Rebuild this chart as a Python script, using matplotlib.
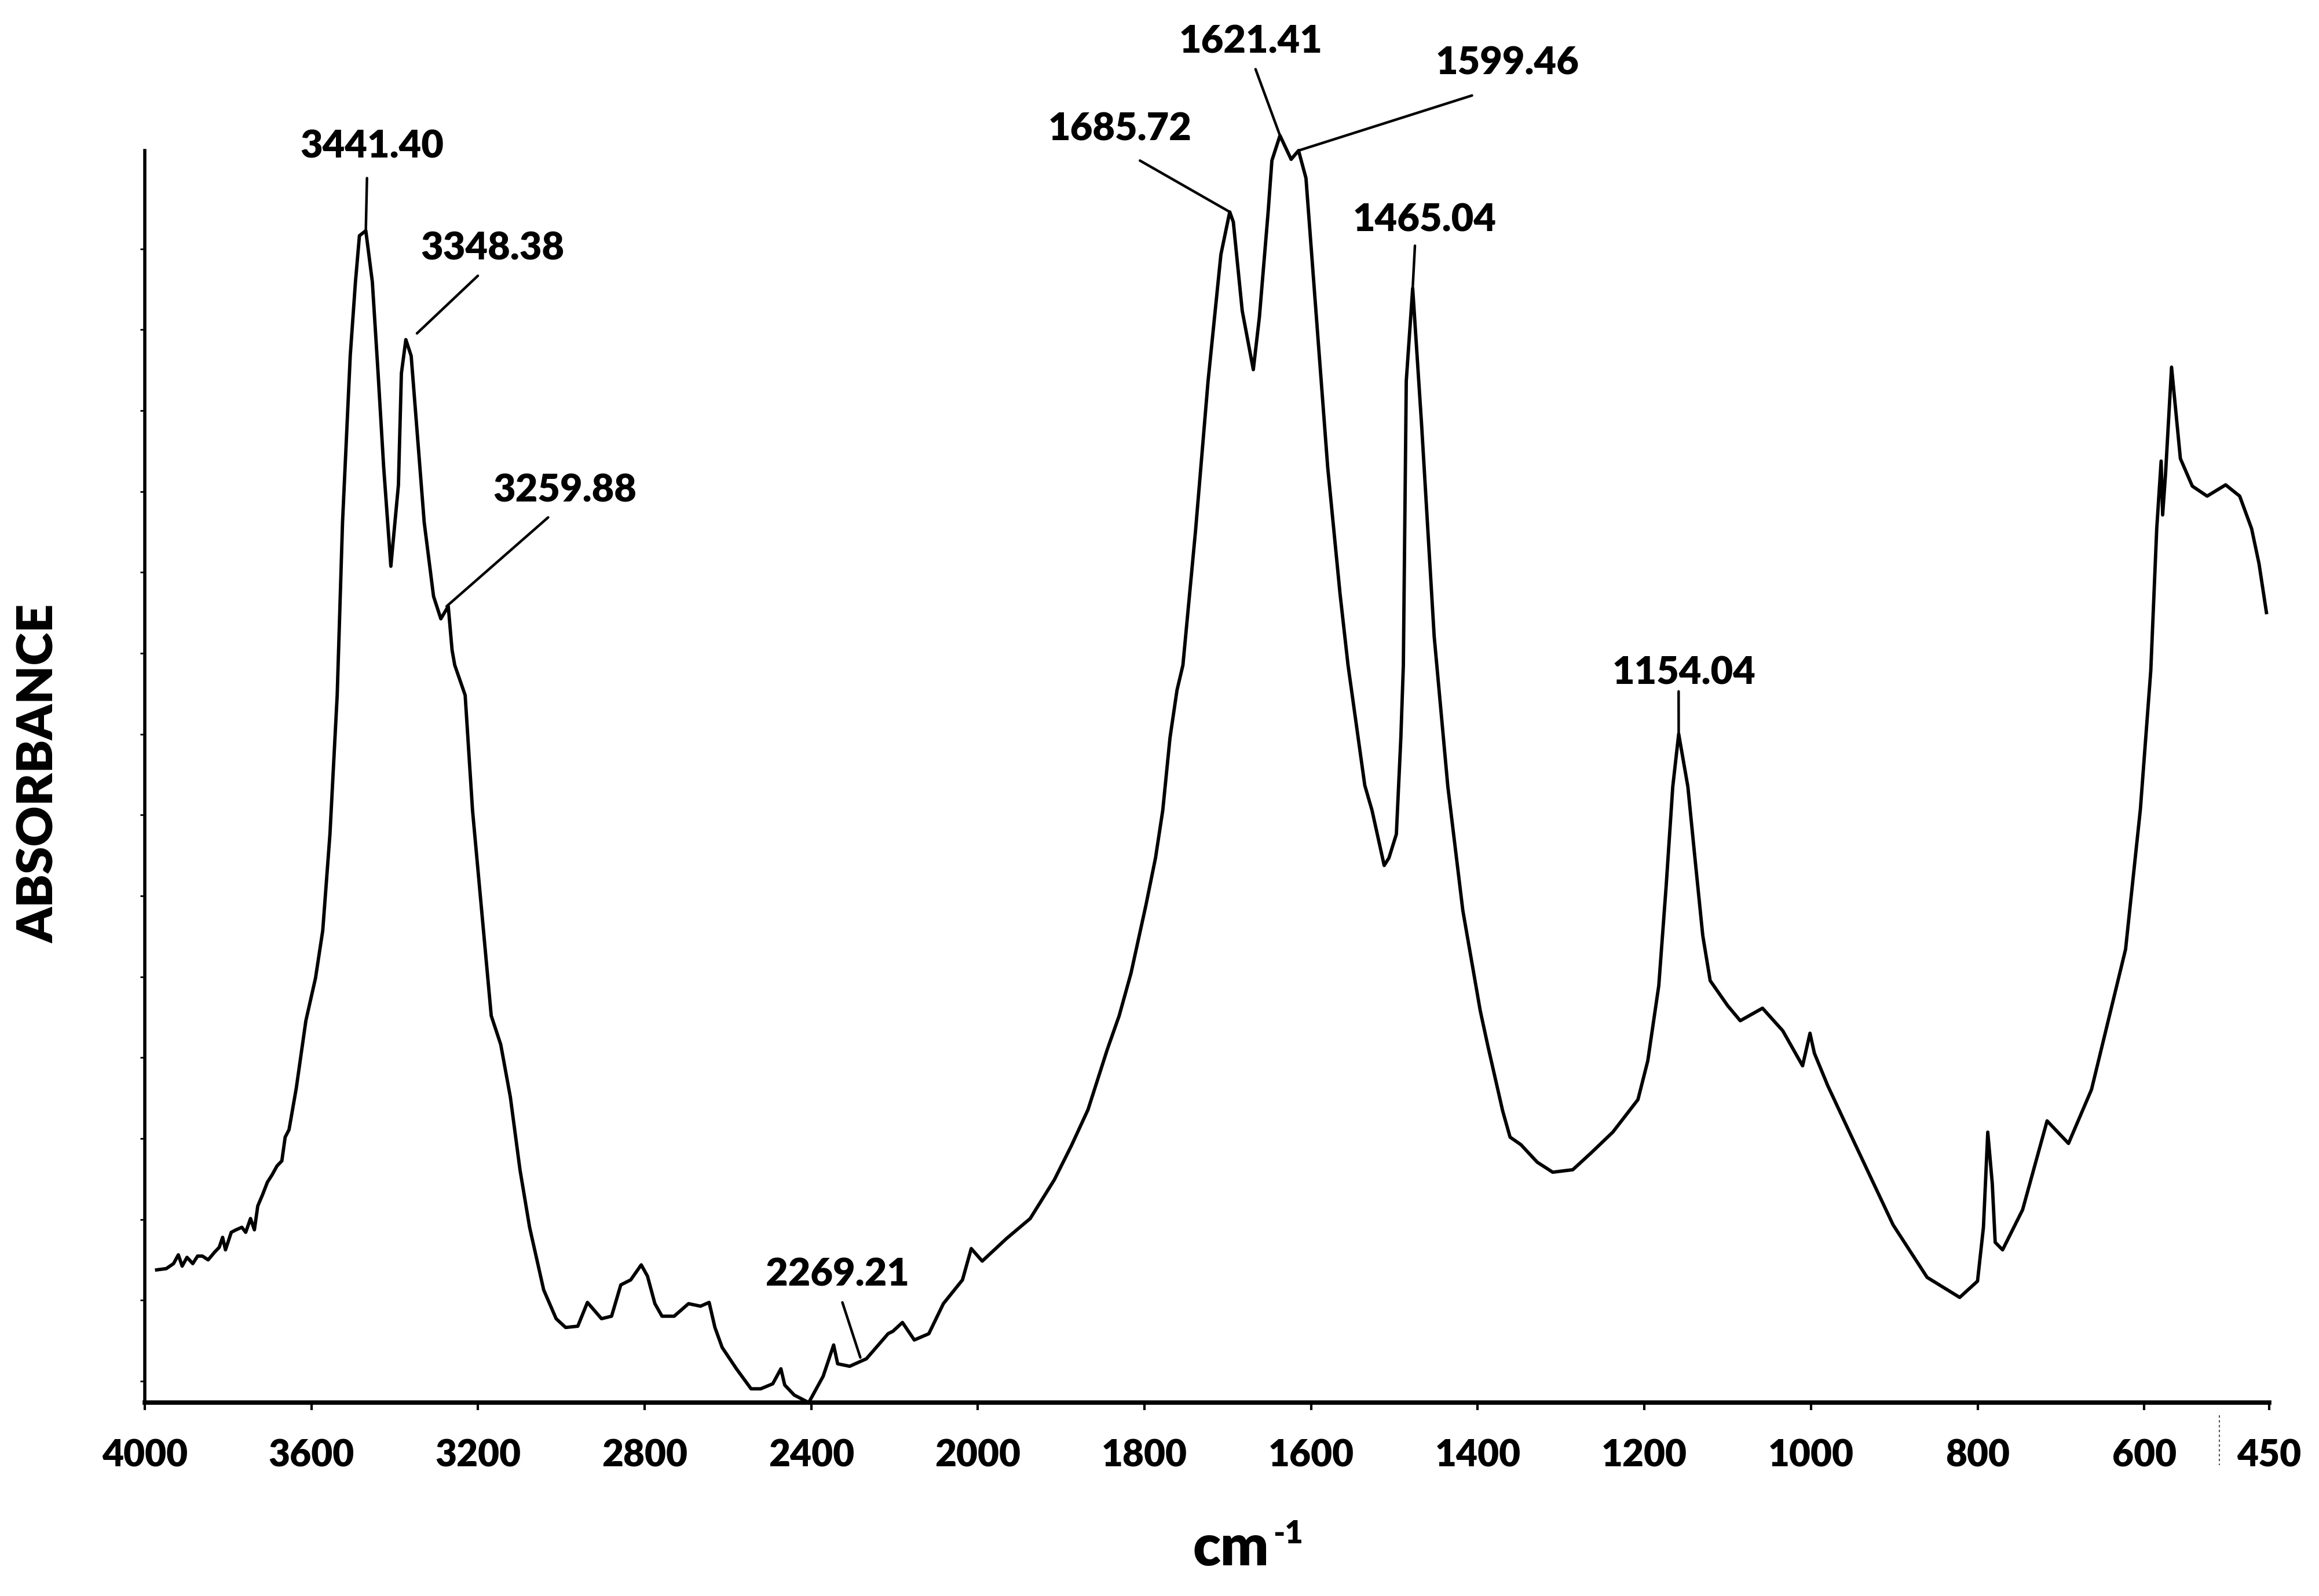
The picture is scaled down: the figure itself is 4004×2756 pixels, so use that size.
import numpy as np
import matplotlib
matplotlib.use("Agg")
import matplotlib.pyplot as plt
from matplotlib.ticker import FixedLocator, NullLocator

plt.rcParams['font.family'] = ['Lato', 'DejaVu Sans']

# ---------------- data ----------------
wavenumber = [
    3971.5, 3948.4, 3931.0, 3919.5, 3910.3, 3898.7, 3884.8, 3873.3, 3861.7, 3847.9,
    3832.8, 3821.3, 3813.2, 3806.3, 3792.4, 3780.8, 3767.0, 3757.7, 3746.2, 3736.9,
    3728.8, 3717.3, 3705.7, 3694.2, 3682.6, 3671.0, 3663.0, 3653.7, 3636.4, 3613.3,
    3590.2, 3572.8, 3555.5, 3538.1, 3525.3, 3506.8, 3494.3, 3484.7, 3469.4, 3453.7,
    3439.9, 3426.7, 3409.3, 3391.1, 3384.0, 3373.3, 3360.5, 3346.6, 3329.2, 3306.8,
    3289.3, 3271.5, 3262.3, 3255.9, 3230.9, 3213.2, 3168.3, 3145.5, 3122.4, 3099.3,
    3076.2, 3042.4, 3012.5, 2989.7, 2960.5, 2937.4, 2903.6, 2879.4, 2857.3, 2833.5,
    2808.2, 2793.2, 2775.4, 2758.4, 2729.2, 2694.7, 2665.8, 2645.2, 2631.3, 2613.9,
    2579.7, 2544.5, 2521.4, 2492.5, 2472.9, 2463.7, 2440.9, 2406.1, 2371.5, 2346.3,
    2336.7, 2307.8, 2267.6, 2215.6, 2203.9, 2181.1, 2152.7, 2117.8, 2082.9, 2037.0,
    2016.0, 1994.8, 1965.7, 1937.2, 1908.2, 1887.9, 1867.8, 1844.7, 1830.4, 1816.2,
    1798.4, 1786.8, 1778.1, 1769.4, 1761.0, 1753.9, 1738.8, 1723.7, 1708.3, 1697.7,
    1693.4, 1682.7, 1669.4, 1662.1, 1651.6, 1647.1, 1637.4, 1624.0, 1615.1, 1606.2,
    1595.5, 1580.1, 1565.3, 1555.7, 1535.6, 1526.9, 1512.3, 1506.6, 1497.7, 1492.3,
    1489.3, 1485.8, 1478.1, 1467.4, 1452.3, 1435.9, 1417.9, 1397.0, 1387.9, 1370.1,
    1361.2, 1348.2, 1328.6, 1310.0, 1285.9, 1264.6, 1237.9, 1207.7, 1195.9, 1182.7,
    1173.8, 1165.9, 1158.8, 1147.8, 1139.0, 1129.9, 1121.0, 1100.0, 1084.9, 1058.2,
    1033.9, 1010.1, 1001.2, 995.9, 979.8, 949.6, 901.5, 860.6, 821.5, 800.1,
    793.0, 787.8, 782.4, 778.9, 770.0, 746.0, 716.6, 690.9, 663.3, 622.4,
    604.6, 592.1, 585.0, 579.7, 577.9, 574.4, 567.2, 556.6, 542.3, 524.5,
    502.3, 485.4, 471.1, 462.2, 453.3,
]
absorbance = [
    0.106, 0.107, 0.111, 0.118, 0.109, 0.116, 0.111, 0.117, 0.117, 0.114,
    0.120, 0.124, 0.132, 0.122, 0.136, 0.138, 0.140, 0.136, 0.147, 0.138,
    0.157, 0.166, 0.176, 0.182, 0.189, 0.193, 0.212, 0.218, 0.251, 0.305,
    0.339, 0.377, 0.454, 0.565, 0.703, 0.836, 0.895, 0.932, 0.936, 0.895,
    0.822, 0.748, 0.668, 0.733, 0.822, 0.849, 0.836, 0.777, 0.703, 0.644,
    0.626, 0.636, 0.601, 0.589, 0.565, 0.473, 0.309, 0.286, 0.244, 0.186,
    0.140, 0.090, 0.067, 0.060, 0.061, 0.080, 0.067, 0.069, 0.094, 0.098,
    0.110, 0.101, 0.079, 0.069, 0.069, 0.079, 0.077, 0.080, 0.060, 0.044,
    0.027, 0.011, 0.011, 0.015, 0.027, 0.014, 0.006, 0.000, 0.021, 0.046,
    0.031, 0.029, 0.035, 0.055, 0.057, 0.064, 0.050, 0.055, 0.079, 0.098,
    0.123, 0.113, 0.131, 0.147, 0.178, 0.205, 0.234, 0.282, 0.309, 0.343,
    0.397, 0.435, 0.473, 0.531, 0.569, 0.589, 0.696, 0.816, 0.917, 0.951,
    0.943, 0.872, 0.825, 0.867, 0.951, 0.992, 1.012, 0.993, 1.000, 0.978,
    0.883, 0.747, 0.646, 0.589, 0.493, 0.473, 0.429, 0.435, 0.454, 0.531,
    0.589, 0.816, 0.890, 0.781, 0.612, 0.492, 0.393, 0.313, 0.285, 0.233,
    0.212, 0.206, 0.192, 0.184, 0.186, 0.199, 0.216, 0.242, 0.273, 0.333,
    0.413, 0.492, 0.534, 0.492, 0.433, 0.373, 0.337, 0.317, 0.305, 0.315,
    0.297, 0.269, 0.295, 0.279, 0.253, 0.210, 0.142, 0.100, 0.084, 0.097,
    0.140, 0.216, 0.175, 0.128, 0.122, 0.154, 0.225, 0.207, 0.250, 0.362,
    0.474, 0.585, 0.698, 0.752, 0.709, 0.742, 0.827, 0.754, 0.732, 0.724,
    0.733, 0.724, 0.698, 0.670, 0.631,
]

tick_values = [4000, 3600, 3200, 2800, 2400, 2000, 1800, 1600, 1400, 1200, 1000, 800, 600, 450]
tick_labels = ["4000", "3600", "3200", "2800", "2400", "2000", "1800", "1600",
               "1400", "1200", "1000", "800", "600", "450"]

# peak labels: text, label position, leader start, leader end (on the curve)
peak_labels = ["3441.40", "3348.38", "3259.88", "2269.21", "1685.72",
               "1621.41", "1599.46", "1465.04", "1154.04"]
label_wn = [3454.0, 3164.8, 2991.4, 2337.4, 1829.4, 1672.2, 1364.5, 1463.9, 1152.5]
label_abs = [0.994, 0.9126, 0.7197, 0.0934, 1.0083, 1.0779, 1.0609, 0.9354, 0.5736]
leader_from_wn = [3466.6, 3200.4, 3031.7, 2325.3, 1805.5, 1666.7, 1406.9, 1475.4, 1158.9]
leader_from_abs = [0.978, 0.900, 0.707, 0.080, 0.992, 1.065, 1.044, 0.924, 0.568]
leader_to_wn = [3469.4, 3346.6, 3275.4, 2282.2, 1697.7, 1637.4, 1615.1, 1478.1, 1158.8]
leader_to_abs = [0.936, 0.854, 0.636, 0.036, 0.951, 1.012, 1.000, 0.890, 0.534]

# ---------------- broken (two-scale) wavenumber axis ----------------
# increasing function of wavenumber: 400 cm-1 per unit above 2000, 200 below
def fwd(w):
    w = np.asarray(w, dtype=float)
    return np.where(w >= 2000, (w - 4000.0) / 400.0, -5.0 - (2000.0 - w) / 200.0)

def inv(u):
    u = np.asarray(u, dtype=float)
    return np.where(u >= -5, 4000.0 + 400.0 * u, 2000.0 + 200.0 * (u + 5.0))

W, H = 4005, 2756
fig = plt.figure(figsize=(W / 100, H / 100), dpi=100)
ax_left, ax_right = 250 / W, 3918 / W
ax_bottom = (H - 2422) / H
ax_height = 2162 / H
ax = fig.add_axes([ax_left, ax_bottom, ax_right - ax_left, ax_height])

ax.set_xscale('function', functions=(fwd, inv))
ax.plot(wavenumber, absorbance, color='black', lw=4.2, solid_joinstyle='round',
        clip_on=False, zorder=3)
ax.set_xlim(4000, 450)
ax.set_ylim(0, 1.0)

for sp in ['top', 'right']:
    ax.spines[sp].set_visible(False)
ax.spines['bottom'].set_linewidth(5.5)
ax.spines['left'].set_linewidth(4)

ax.xaxis.set_major_locator(FixedLocator(tick_values))
ax.xaxis.set_minor_locator(NullLocator())
ax.set_xticklabels(tick_labels)
ax.tick_params(axis='x', direction='out', length=9, width=3, pad=36,
               labelsize=46)
for lab in ax.get_xticklabels():
    lab.set_fontweight('heavy')

ax.set_yticks(np.arange(0.0171, 0.95, 0.0646))
ax.set_yticklabels([])
ax.yaxis.set_minor_locator(NullLocator())
ax.tick_params(axis='y', direction='out', length=6, width=2)

# peak annotations
for i, txt in enumerate(peak_labels):
    ax.text(label_wn[i], label_abs[i], txt, ha='center', va='baseline',
            fontsize=48, fontweight='heavy', zorder=4)
    ax.annotate('', xy=(leader_to_wn[i], leader_to_abs[i]),
                xytext=(leader_from_wn[i], leader_from_abs[i]),
                arrowprops=dict(arrowstyle='-', lw=3.2, color='black',
                                shrinkA=0, shrinkB=0),
                annotation_clip=False, zorder=4)

# small dotted separator between the 600 and 450 labels
ax.plot([510, 510], [-0.010, -0.050], transform=ax.get_xaxis_transform(),
        color='#555555', lw=1.5, ls=(0, (2, 2)), clip_on=False)

# axis titles
fig.text(68 / W, 0.515, 'ABSORBANCE', rotation=90, ha='center', va='center',
         fontsize=62, fontweight='heavy')
fig.text(2125 / W, (H - 2703) / H, 'cm', ha='center', va='baseline',
         fontsize=71, fontweight='heavy')
fig.text(2198 / W, (H - 2665) / H, '-1', ha='left', va='baseline',
         fontsize=39, fontweight='heavy')

fig.savefig('out.png', dpi=100, facecolor='white')
